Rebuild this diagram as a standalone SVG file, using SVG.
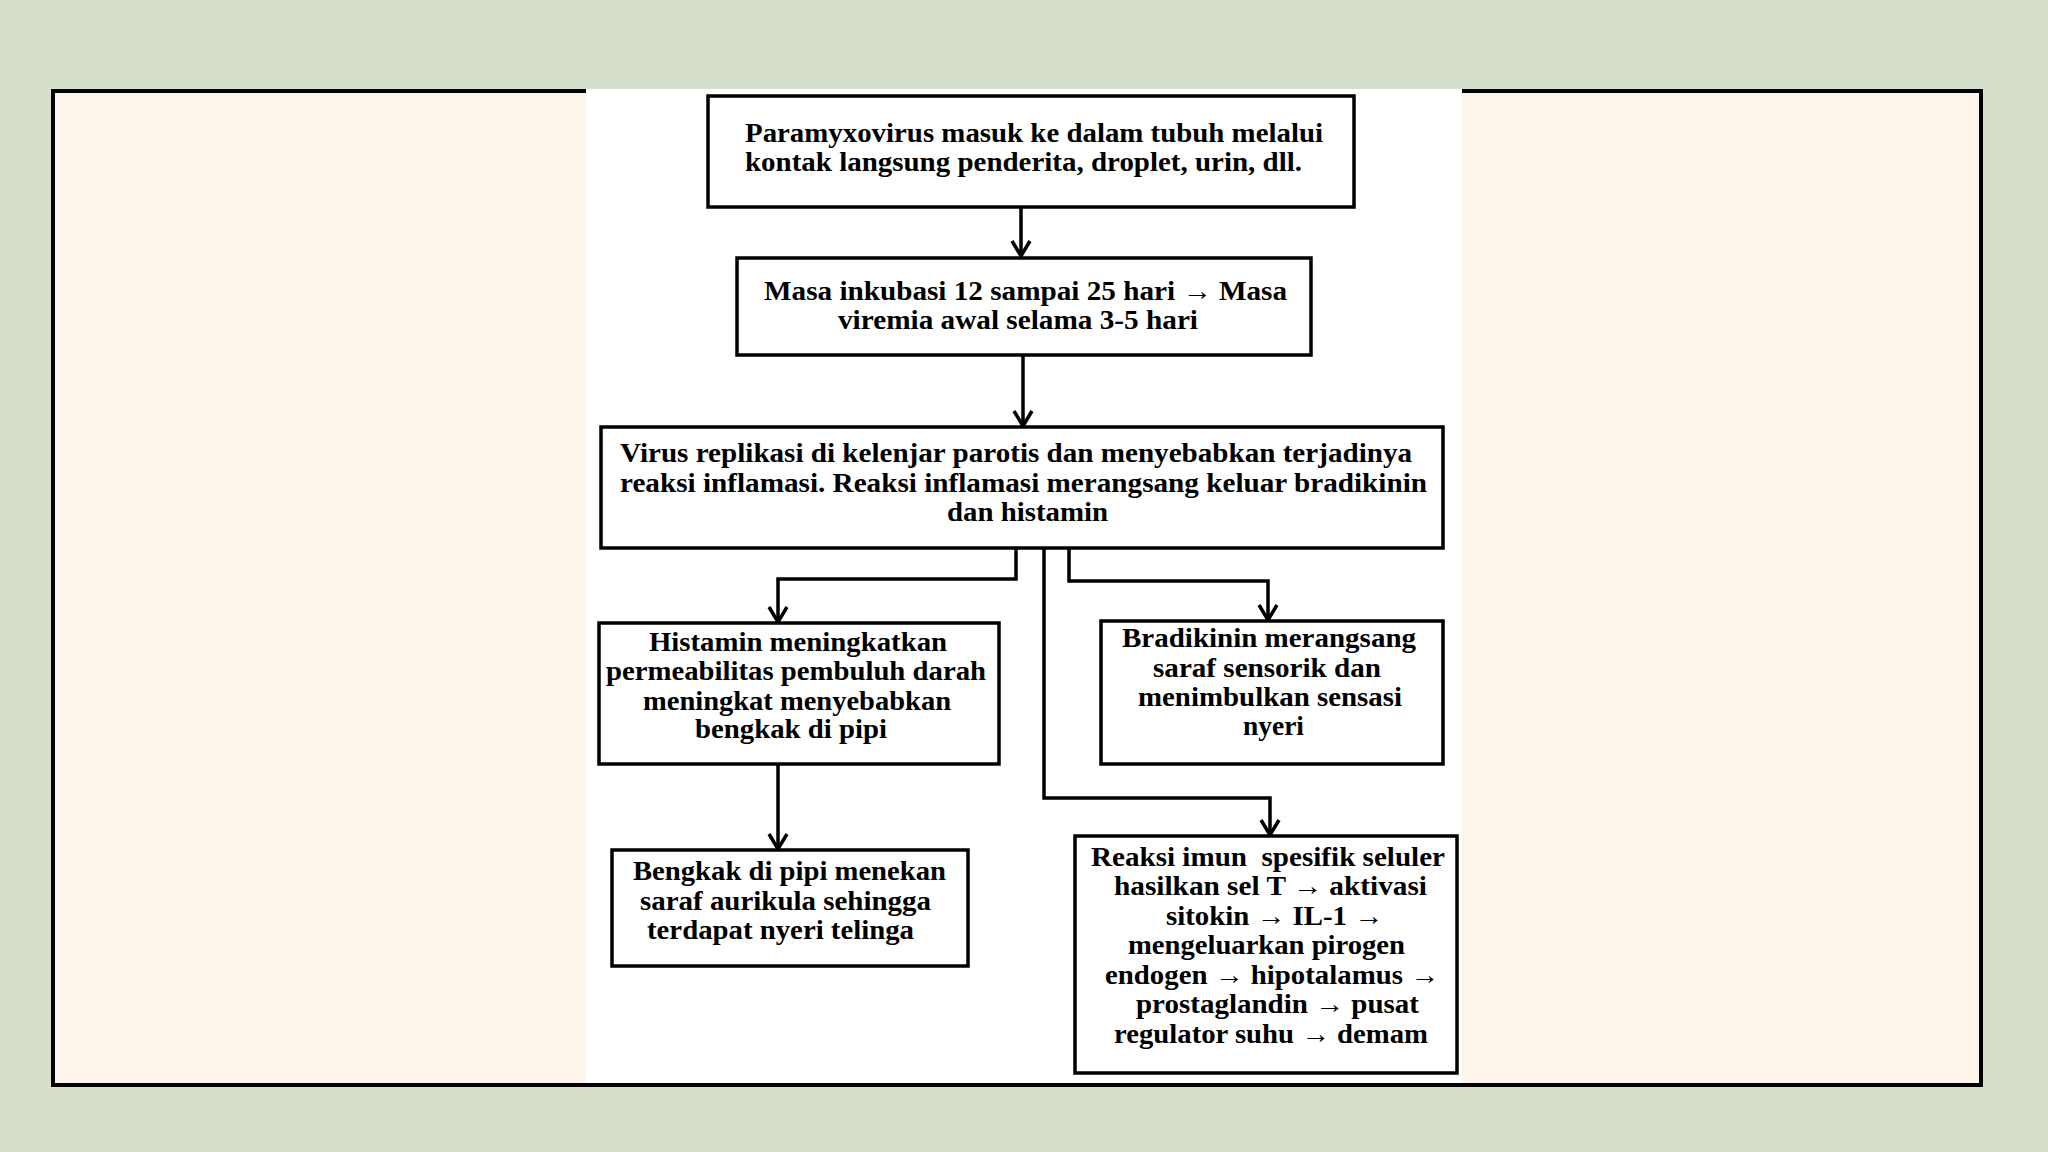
<svg xmlns="http://www.w3.org/2000/svg" width="2048" height="1152" viewBox="0 0 2048 1152">
<style>
.box{fill:#ffffff;stroke:#000;stroke-width:3.5}
.con{fill:none;stroke:#000;stroke-width:3.5}
text{font-family:"Liberation Serif","Times New Roman",serif;font-weight:bold;font-size:27px;fill:#000}
</style>
<defs>
<marker id="ah" markerUnits="userSpaceOnUse" markerWidth="20" markerHeight="24" refX="17" refY="10" orient="auto" viewBox="0 0 20 20">
<path d="M2,1 L17,10 L2,19" fill="none" stroke="#000" stroke-width="3.5"/>
</marker>
</defs>
<rect x="0" y="0" width="2048" height="1152" fill="#d6dfcb"/>
<rect x="53" y="91" width="1928" height="994" fill="#fdf4ec" stroke="#000" stroke-width="4"/>
<rect x="586" y="89" width="876" height="994" fill="#ffffff"/>

<g id="connectors">
<path class="con" d="M1021,207 V256" marker-end="url(#ah)"/>
<path class="con" d="M1023,355 V426" marker-end="url(#ah)"/>
<path class="con" d="M1016,548 V579 H778 V622" marker-end="url(#ah)"/>
<path class="con" d="M1069,548 V581 H1268 V620" marker-end="url(#ah)"/>
<path class="con" d="M1044,548 V798 H1270 V835" marker-end="url(#ah)"/>
<path class="con" d="M778,764 V849" marker-end="url(#ah)"/>
</g>

<g id="n1">
<rect class="box" x="708" y="96" width="646" height="111"/>
<text x="745" y="142" textLength="578" lengthAdjust="spacingAndGlyphs">Paramyxovirus masuk ke dalam tubuh melalui</text>
<text x="745" y="171" textLength="557" lengthAdjust="spacingAndGlyphs">kontak langsung penderita, droplet, urin, dll.</text>
</g>

<g id="n2">
<rect class="box" x="737" y="258" width="574" height="97"/>
<text x="764" y="300" textLength="523" lengthAdjust="spacingAndGlyphs">Masa inkubasi 12 sampai 25 hari → Masa</text>
<text x="838" y="329" textLength="360" lengthAdjust="spacingAndGlyphs">viremia awal selama 3-5 hari</text>
</g>

<g id="n3">
<rect class="box" x="601" y="427" width="842" height="121"/>
<text x="620" y="462" textLength="792" lengthAdjust="spacingAndGlyphs">Virus replikasi di kelenjar parotis dan menyebabkan terjadinya</text>
<text x="620" y="492" textLength="807" lengthAdjust="spacingAndGlyphs">reaksi inflamasi. Reaksi inflamasi merangsang keluar bradikinin</text>
<text x="947" y="521" textLength="161" lengthAdjust="spacingAndGlyphs">dan histamin</text>
</g>

<g id="n4">
<rect class="box" x="599" y="623" width="400" height="141"/>
<text x="649" y="651" textLength="298" lengthAdjust="spacingAndGlyphs">Histamin meningkatkan</text>
<text x="606" y="680" textLength="380" lengthAdjust="spacingAndGlyphs">permeabilitas pembuluh darah</text>
<text x="643" y="710" textLength="308" lengthAdjust="spacingAndGlyphs">meningkat menyebabkan</text>
<text x="695" y="738" textLength="192" lengthAdjust="spacingAndGlyphs">bengkak di pipi</text>
</g>

<g id="n5">
<rect class="box" x="1101" y="621" width="342" height="143"/>
<text x="1122" y="647" textLength="294" lengthAdjust="spacingAndGlyphs">Bradikinin merangsang</text>
<text x="1153" y="677" textLength="228" lengthAdjust="spacingAndGlyphs">saraf sensorik dan</text>
<text x="1138" y="706" textLength="264" lengthAdjust="spacingAndGlyphs">menimbulkan sensasi</text>
<text x="1243" y="735" textLength="61" lengthAdjust="spacingAndGlyphs">nyeri</text>
</g>

<g id="n6">
<rect class="box" x="612" y="850" width="356" height="116"/>
<text x="633" y="880" textLength="313" lengthAdjust="spacingAndGlyphs">Bengkak di pipi menekan</text>
<text x="640" y="910" textLength="291" lengthAdjust="spacingAndGlyphs">saraf aurikula sehingga</text>
<text x="647" y="939" textLength="267" lengthAdjust="spacingAndGlyphs">terdapat nyeri telinga</text>
</g>

<g id="n7">
<rect class="box" x="1075" y="836" width="382" height="237"/>
<text x="1091" y="866" textLength="354" lengthAdjust="spacingAndGlyphs" xml:space="preserve">Reaksi imun  spesifik seluler</text>
<text x="1114" y="895" textLength="313" lengthAdjust="spacingAndGlyphs">hasilkan sel T → aktivasi</text>
<text x="1166" y="925" textLength="217" lengthAdjust="spacingAndGlyphs">sitokin → IL-1 →</text>
<text x="1128" y="954" textLength="277" lengthAdjust="spacingAndGlyphs">mengeluarkan pirogen</text>
<text x="1105" y="984" textLength="334" lengthAdjust="spacingAndGlyphs">endogen → hipotalamus →</text>
<text x="1136" y="1013" textLength="283" lengthAdjust="spacingAndGlyphs">prostaglandin → pusat</text>
<text x="1114" y="1043" textLength="314" lengthAdjust="spacingAndGlyphs">regulator suhu → demam</text>
</g>
</svg>
